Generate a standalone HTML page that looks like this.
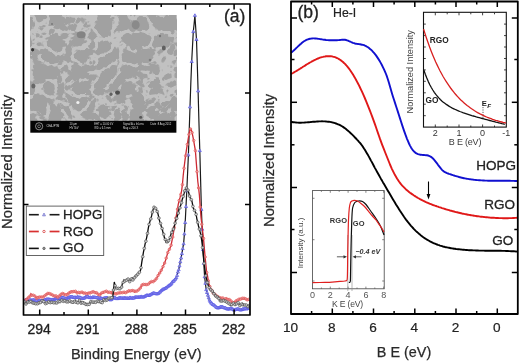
<!DOCTYPE html>
<html><head><meta charset="utf-8"><style>
html,body{margin:0;padding:0;background:#fff;}
body{width:520px;height:363px;overflow:hidden;}
svg{display:block;filter:blur(0.3px);}
</style></head><body>
<svg width="520" height="363" viewBox="0 0 520 363">
<defs><filter id="semtex" filterUnits="userSpaceOnUse" x="30.3" y="15.2" width="146.1" height="105.6" color-interpolation-filters="sRGB">
<feTurbulence type="turbulence" baseFrequency="0.062" numOctaves="3" seed="11" result="n"/>
<feColorMatrix in="n" type="matrix" values="1 0 0 0 0 1 0 0 0 0 1 0 0 0 0 0 0 0 0 1" result="g"/>
<feComponentTransfer in="g"><feFuncR type="table" tableValues="0.760 0.760 0.760 0.760 0.760 0.760 0.760 0.760 0.760 0.760 0.760 0.739 0.713 0.687 0.661 0.635 0.635 0.635 0.635 0.635 0.635 0.635 0.635 0.635 0.635 0.635 0.635 0.635 0.635 0.635 0.635 0.635 0.635 0.635 0.635 0.635 0.635 0.635 0.635 0.635 0.635 0.635 0.635 0.635 0.635 0.635 0.635 0.635 0.635 0.635 0.635 0.635 0.635 0.635 0.635 0.635 0.635 0.635 0.635 0.635 0.635"/><feFuncG type="table" tableValues="0.760 0.760 0.760 0.760 0.760 0.760 0.760 0.760 0.760 0.760 0.760 0.739 0.713 0.687 0.661 0.635 0.635 0.635 0.635 0.635 0.635 0.635 0.635 0.635 0.635 0.635 0.635 0.635 0.635 0.635 0.635 0.635 0.635 0.635 0.635 0.635 0.635 0.635 0.635 0.635 0.635 0.635 0.635 0.635 0.635 0.635 0.635 0.635 0.635 0.635 0.635 0.635 0.635 0.635 0.635 0.635 0.635 0.635 0.635 0.635 0.635"/><feFuncB type="table" tableValues="0.760 0.760 0.760 0.760 0.760 0.760 0.760 0.760 0.760 0.760 0.760 0.739 0.713 0.687 0.661 0.635 0.635 0.635 0.635 0.635 0.635 0.635 0.635 0.635 0.635 0.635 0.635 0.635 0.635 0.635 0.635 0.635 0.635 0.635 0.635 0.635 0.635 0.635 0.635 0.635 0.635 0.635 0.635 0.635 0.635 0.635 0.635 0.635 0.635 0.635 0.635 0.635 0.635 0.635 0.635 0.635 0.635 0.635 0.635 0.635 0.635"/><feFuncA type="linear" slope="0" intercept="1"/></feComponentTransfer>
<feGaussianBlur stdDeviation="0.5"/>
</filter><clipPath id="semclip"><rect x="30.3" y="15.2" width="146.1" height="105.6"/></clipPath>
<filter id="semblur" x="-5%" y="-5%" width="110%" height="110%"><feGaussianBlur stdDeviation="0.6"/></filter><clipPath id="clipa"><rect x="24" y="4.5" width="225.5" height="310"/></clipPath></defs>
<rect width="520" height="363" fill="#fff"/>
<!-- panel a -->
<rect x="30.3" y="15.2" width="146.1" height="105.6" fill="#aaa" filter="url(#semtex)"/><g clip-path="url(#semclip)" filter="url(#semblur)"><ellipse cx="81.2" cy="34.8" rx="4.5" ry="3.5" fill="#848484"/><ellipse cx="135.7" cy="24.9" rx="4" ry="4.5" fill="#8a8a8a"/><ellipse cx="163.8" cy="48" rx="2" ry="2.5" fill="#606060"/><ellipse cx="32.6" cy="49.7" rx="1.6" ry="1.8" fill="#383838"/><ellipse cx="117.5" cy="92.6" rx="2.5" ry="2.2" fill="#505050"/><ellipse cx="111" cy="94.3" rx="1.5" ry="1.8" fill="#606060"/><ellipse cx="33.3" cy="86" rx="2" ry="2.5" fill="#686868"/><ellipse cx="140.7" cy="117.4" rx="1.6" ry="1.4" fill="#585858"/><ellipse cx="160" cy="36" rx="1.2" ry="1.2" fill="#787878"/><ellipse cx="52" cy="24" rx="1" ry="1" fill="#787878"/><ellipse cx="150" cy="60" rx="1.3" ry="1.3" fill="#808080"/><circle cx="77.9" cy="102.5" r="1.6" fill="#f0f0f0"/></g><rect x="30.3" y="120.8" width="146.1" height="11.9" fill="#050505"/>
<circle cx="39.1" cy="126.3" r="3.6" fill="none" stroke="#ddd" stroke-width="0.6"/><circle cx="39.1" cy="126.3" r="1.4" fill="none" stroke="#ccc" stroke-width="0.5"/><g font-family="Liberation Sans, sans-serif" font-size="2.7" fill="#dcdcdc"><text x="46.5" y="127.4">CEA-IPTM</text><text x="69.5" y="125.2">10 μm</text><text x="69.5" y="129.4">HV 5kV</text><text x="94.2" y="125.2">EHT = 10.00 kV</text><text x="94.2" y="129.4">WD = 6.5 mm</text><text x="123" y="125.2">Signal A = InLens</text><text x="123" y="129.4">Mag = 200 X</text><text x="150.5" y="125.2">Date :8 Aug 2012</text></g>

<g clip-path="url(#clipa)">
<polyline points="24.8,300.5 25.6,299.8 26.4,299.7 27.2,299.9 28.0,300.7 28.8,300.4 29.7,300.1 30.5,300.1 31.3,300.2 32.1,300.2 32.9,300.0 33.7,299.9 34.5,300.2 35.3,300.4 36.1,300.2 36.9,300.3 37.8,300.9 38.6,300.6 39.4,300.3 40.2,300.7 41.0,301.0 41.8,300.7 42.6,301.0 43.4,300.6 44.2,300.0 45.0,299.7 45.9,299.6 46.7,299.2 47.5,299.3 48.3,299.2 49.1,299.4 49.9,299.4 50.7,299.6 51.5,299.9 52.3,299.5 53.1,299.7 54.0,299.5 54.8,299.0 55.6,298.4 56.4,298.8 57.2,298.6 58.0,298.2 58.8,298.5 59.6,298.5 60.4,297.9 61.2,297.2 62.1,297.5 62.9,297.5 63.7,297.7 64.5,298.2 65.3,298.6 66.1,298.3 66.9,298.4 67.7,297.7 68.5,297.4 69.3,297.3 70.2,296.7 71.0,296.8 71.8,296.8 72.6,296.9 73.4,297.4 74.2,297.6 75.0,297.1 75.8,297.8 76.6,297.5 77.4,296.8 78.3,297.2 79.1,297.5 79.9,297.3 80.7,297.7 81.5,298.2 82.3,298.4 83.1,298.4 83.9,298.1 84.7,297.8 85.5,296.9 86.4,296.8 87.2,296.2 88.0,296.6 88.8,297.4 89.6,297.6 90.4,297.3 91.2,297.7 92.0,297.7 92.8,297.0 93.6,297.3 94.5,297.3 95.3,297.4 96.1,297.6 96.9,297.6 97.7,297.7 98.5,298.0 99.3,298.3 100.1,297.6 100.9,298.2 101.7,298.4 102.6,298.6 103.4,298.4 104.2,298.3 105.0,297.8 105.8,298.0 106.6,297.8 107.4,297.8 108.2,298.8 109.0,299.6 109.8,299.4 110.7,299.9 111.5,299.4 112.3,298.3 113.1,297.9 113.9,297.8 114.7,297.4 115.5,298.1 116.3,298.6 117.1,298.5 117.9,298.6 118.8,298.0 119.6,297.9 120.4,297.9 121.2,298.2 122.0,297.9 122.8,298.3 123.6,298.1 124.4,298.0 125.2,297.9 126.0,298.3 126.9,298.1 127.7,298.2 128.5,298.5 129.3,297.7 130.1,297.5 130.9,298.0 131.7,298.2 132.5,297.9 133.3,298.0 134.1,298.0 135.0,297.1 135.8,297.1 136.6,297.2 137.4,297.3 138.2,297.0 139.0,297.2 139.8,297.0 140.6,296.9 141.4,296.5 142.2,296.9 143.1,297.2 143.9,296.7 144.7,296.3 145.5,296.0 146.3,295.4 147.1,295.2 147.9,295.4 148.7,295.4 149.5,295.1 150.3,294.8 151.2,294.2 152.0,293.7 152.8,293.3 153.6,293.1 154.4,293.3 155.2,293.5 156.0,293.7 156.8,293.8 157.6,293.7 158.4,293.4 159.3,292.4 160.1,291.8 160.9,290.8 161.7,290.3 162.5,289.4 163.3,289.3 164.1,288.7 164.9,288.5 165.7,287.9 166.5,287.7 167.4,286.5 168.2,286.2 169.0,285.4 169.8,285.1 170.6,284.4 171.4,283.6 172.2,282.1 173.0,281.4 173.8,281.0 174.6,279.8 175.5,279.0 176.3,277.6 177.1,275.4 177.9,272.0 178.7,269.7 179.5,265.9 180.3,261.8 181.1,258.0 181.9,253.6 182.7,248.6 183.6,243.8 184.4,233.9 185.2,222.5 186.0,206.5 186.8,190.7 187.6,172.8 188.4,154.9 189.2,131.1 190.0,106.9 190.8,83.7 191.7,61.5 192.5,46.5 193.3,31.6 194.1,24.0 194.9,15.4 195.7,27.8 196.5,39.5 197.3,65.0 198.1,90.9 198.9,120.7 199.8,150.6 200.6,179.9 201.4,209.4 202.2,229.2 203.0,249.5 203.8,263.4 204.6,276.8 205.4,283.3 206.2,289.7 207.0,292.5 207.9,295.2 208.7,297.8 209.5,300.2 210.3,301.6 211.1,302.9 211.9,303.4 212.7,304.5 213.5,304.7 214.3,305.3 215.1,306.0 216.0,306.8 216.8,307.5 217.6,307.9 218.4,307.8 219.2,307.6 220.0,307.1 220.8,306.7 221.6,306.9 222.4,306.9 223.2,307.3 224.1,307.7 224.9,308.0 225.7,307.9 226.5,308.6 227.3,309.0 228.1,308.8 228.9,308.9 229.7,308.9 230.5,308.4 231.3,308.4 232.2,308.9 233.0,309.3 233.8,310.0 234.6,310.0 235.4,309.5 236.2,309.3 237.0,309.3 237.8,308.8 238.6,309.2 239.4,309.6 240.3,309.9 241.1,309.8 241.9,309.6 242.7,309.0 243.5,309.1 244.3,308.9 245.1,308.5 245.9,308.6 246.7,309.0 247.5,308.2 248.4,308.2 249.2,308.3 250.0,308.4" fill="none" stroke="#1a1a1a" stroke-width="1.2"/>
<g fill="#fff" fill-opacity="0.6" stroke="#5c5ce6" stroke-width="0.85"><path d="M24.8,298.9l1.5,2.6h-3z"/><path d="M25.6,298.2l1.5,2.6h-3z"/><path d="M26.4,298.1l1.5,2.6h-3z"/><path d="M27.2,298.3l1.5,2.6h-3z"/><path d="M28.0,299.1l1.5,2.6h-3z"/><path d="M28.8,298.8l1.5,2.6h-3z"/><path d="M29.7,298.5l1.5,2.6h-3z"/><path d="M30.5,298.5l1.5,2.6h-3z"/><path d="M31.3,298.6l1.5,2.6h-3z"/><path d="M32.1,298.6l1.5,2.6h-3z"/><path d="M32.9,298.4l1.5,2.6h-3z"/><path d="M33.7,298.3l1.5,2.6h-3z"/><path d="M34.5,298.6l1.5,2.6h-3z"/><path d="M35.3,298.8l1.5,2.6h-3z"/><path d="M36.1,298.6l1.5,2.6h-3z"/><path d="M36.9,298.7l1.5,2.6h-3z"/><path d="M37.8,299.3l1.5,2.6h-3z"/><path d="M38.6,299.0l1.5,2.6h-3z"/><path d="M39.4,298.7l1.5,2.6h-3z"/><path d="M40.2,299.1l1.5,2.6h-3z"/><path d="M41.0,299.4l1.5,2.6h-3z"/><path d="M41.8,299.1l1.5,2.6h-3z"/><path d="M42.6,299.4l1.5,2.6h-3z"/><path d="M43.4,299.0l1.5,2.6h-3z"/><path d="M44.2,298.4l1.5,2.6h-3z"/><path d="M45.0,298.1l1.5,2.6h-3z"/><path d="M45.9,298.0l1.5,2.6h-3z"/><path d="M46.7,297.6l1.5,2.6h-3z"/><path d="M47.5,297.7l1.5,2.6h-3z"/><path d="M48.3,297.6l1.5,2.6h-3z"/><path d="M49.1,297.8l1.5,2.6h-3z"/><path d="M49.9,297.8l1.5,2.6h-3z"/><path d="M50.7,298.0l1.5,2.6h-3z"/><path d="M51.5,298.3l1.5,2.6h-3z"/><path d="M52.3,297.9l1.5,2.6h-3z"/><path d="M53.1,298.1l1.5,2.6h-3z"/><path d="M54.0,297.9l1.5,2.6h-3z"/><path d="M54.8,297.4l1.5,2.6h-3z"/><path d="M55.6,296.8l1.5,2.6h-3z"/><path d="M56.4,297.2l1.5,2.6h-3z"/><path d="M57.2,297.0l1.5,2.6h-3z"/><path d="M58.0,296.6l1.5,2.6h-3z"/><path d="M58.8,296.9l1.5,2.6h-3z"/><path d="M59.6,296.9l1.5,2.6h-3z"/><path d="M60.4,296.3l1.5,2.6h-3z"/><path d="M61.2,295.6l1.5,2.6h-3z"/><path d="M62.1,295.9l1.5,2.6h-3z"/><path d="M62.9,295.9l1.5,2.6h-3z"/><path d="M63.7,296.1l1.5,2.6h-3z"/><path d="M64.5,296.6l1.5,2.6h-3z"/><path d="M65.3,297.0l1.5,2.6h-3z"/><path d="M66.1,296.7l1.5,2.6h-3z"/><path d="M66.9,296.8l1.5,2.6h-3z"/><path d="M67.7,296.1l1.5,2.6h-3z"/><path d="M68.5,295.8l1.5,2.6h-3z"/><path d="M69.3,295.7l1.5,2.6h-3z"/><path d="M70.2,295.1l1.5,2.6h-3z"/><path d="M71.0,295.2l1.5,2.6h-3z"/><path d="M71.8,295.2l1.5,2.6h-3z"/><path d="M72.6,295.3l1.5,2.6h-3z"/><path d="M73.4,295.8l1.5,2.6h-3z"/><path d="M74.2,296.0l1.5,2.6h-3z"/><path d="M75.0,295.5l1.5,2.6h-3z"/><path d="M75.8,296.2l1.5,2.6h-3z"/><path d="M76.6,295.9l1.5,2.6h-3z"/><path d="M77.4,295.2l1.5,2.6h-3z"/><path d="M78.3,295.6l1.5,2.6h-3z"/><path d="M79.1,295.9l1.5,2.6h-3z"/><path d="M79.9,295.7l1.5,2.6h-3z"/><path d="M80.7,296.1l1.5,2.6h-3z"/><path d="M81.5,296.6l1.5,2.6h-3z"/><path d="M82.3,296.8l1.5,2.6h-3z"/><path d="M83.1,296.8l1.5,2.6h-3z"/><path d="M83.9,296.5l1.5,2.6h-3z"/><path d="M84.7,296.2l1.5,2.6h-3z"/><path d="M85.5,295.3l1.5,2.6h-3z"/><path d="M86.4,295.2l1.5,2.6h-3z"/><path d="M87.2,294.6l1.5,2.6h-3z"/><path d="M88.0,295.0l1.5,2.6h-3z"/><path d="M88.8,295.8l1.5,2.6h-3z"/><path d="M89.6,296.0l1.5,2.6h-3z"/><path d="M90.4,295.7l1.5,2.6h-3z"/><path d="M91.2,296.1l1.5,2.6h-3z"/><path d="M92.0,296.1l1.5,2.6h-3z"/><path d="M92.8,295.4l1.5,2.6h-3z"/><path d="M93.6,295.7l1.5,2.6h-3z"/><path d="M94.5,295.7l1.5,2.6h-3z"/><path d="M95.3,295.8l1.5,2.6h-3z"/><path d="M96.1,296.0l1.5,2.6h-3z"/><path d="M96.9,296.0l1.5,2.6h-3z"/><path d="M97.7,296.1l1.5,2.6h-3z"/><path d="M98.5,296.4l1.5,2.6h-3z"/><path d="M99.3,296.7l1.5,2.6h-3z"/><path d="M100.1,296.0l1.5,2.6h-3z"/><path d="M100.9,296.6l1.5,2.6h-3z"/><path d="M101.7,296.8l1.5,2.6h-3z"/><path d="M102.6,297.0l1.5,2.6h-3z"/><path d="M103.4,296.8l1.5,2.6h-3z"/><path d="M104.2,296.7l1.5,2.6h-3z"/><path d="M105.0,296.2l1.5,2.6h-3z"/><path d="M105.8,296.4l1.5,2.6h-3z"/><path d="M106.6,296.2l1.5,2.6h-3z"/><path d="M107.4,296.2l1.5,2.6h-3z"/><path d="M108.2,297.2l1.5,2.6h-3z"/><path d="M109.0,298.0l1.5,2.6h-3z"/><path d="M109.8,297.8l1.5,2.6h-3z"/><path d="M110.7,298.3l1.5,2.6h-3z"/><path d="M111.5,297.8l1.5,2.6h-3z"/><path d="M112.3,296.7l1.5,2.6h-3z"/><path d="M113.1,296.3l1.5,2.6h-3z"/><path d="M113.9,296.2l1.5,2.6h-3z"/><path d="M114.7,295.8l1.5,2.6h-3z"/><path d="M115.5,296.5l1.5,2.6h-3z"/><path d="M116.3,297.0l1.5,2.6h-3z"/><path d="M117.1,296.9l1.5,2.6h-3z"/><path d="M117.9,297.0l1.5,2.6h-3z"/><path d="M118.8,296.4l1.5,2.6h-3z"/><path d="M119.6,296.3l1.5,2.6h-3z"/><path d="M120.4,296.3l1.5,2.6h-3z"/><path d="M121.2,296.6l1.5,2.6h-3z"/><path d="M122.0,296.3l1.5,2.6h-3z"/><path d="M122.8,296.7l1.5,2.6h-3z"/><path d="M123.6,296.5l1.5,2.6h-3z"/><path d="M124.4,296.4l1.5,2.6h-3z"/><path d="M125.2,296.3l1.5,2.6h-3z"/><path d="M126.0,296.7l1.5,2.6h-3z"/><path d="M126.9,296.5l1.5,2.6h-3z"/><path d="M127.7,296.6l1.5,2.6h-3z"/><path d="M128.5,296.9l1.5,2.6h-3z"/><path d="M129.3,296.1l1.5,2.6h-3z"/><path d="M130.1,295.9l1.5,2.6h-3z"/><path d="M130.9,296.4l1.5,2.6h-3z"/><path d="M131.7,296.6l1.5,2.6h-3z"/><path d="M132.5,296.3l1.5,2.6h-3z"/><path d="M133.3,296.4l1.5,2.6h-3z"/><path d="M134.1,296.4l1.5,2.6h-3z"/><path d="M135.0,295.5l1.5,2.6h-3z"/><path d="M135.8,295.5l1.5,2.6h-3z"/><path d="M136.6,295.6l1.5,2.6h-3z"/><path d="M137.4,295.7l1.5,2.6h-3z"/><path d="M138.2,295.4l1.5,2.6h-3z"/><path d="M139.0,295.6l1.5,2.6h-3z"/><path d="M139.8,295.4l1.5,2.6h-3z"/><path d="M140.6,295.3l1.5,2.6h-3z"/><path d="M141.4,294.9l1.5,2.6h-3z"/><path d="M142.2,295.3l1.5,2.6h-3z"/><path d="M143.1,295.6l1.5,2.6h-3z"/><path d="M143.9,295.1l1.5,2.6h-3z"/><path d="M144.7,294.7l1.5,2.6h-3z"/><path d="M145.5,294.4l1.5,2.6h-3z"/><path d="M146.3,293.8l1.5,2.6h-3z"/><path d="M147.1,293.6l1.5,2.6h-3z"/><path d="M147.9,293.8l1.5,2.6h-3z"/><path d="M148.7,293.8l1.5,2.6h-3z"/><path d="M149.5,293.5l1.5,2.6h-3z"/><path d="M150.3,293.2l1.5,2.6h-3z"/><path d="M151.2,292.6l1.5,2.6h-3z"/><path d="M152.0,292.1l1.5,2.6h-3z"/><path d="M152.8,291.7l1.5,2.6h-3z"/><path d="M153.6,291.5l1.5,2.6h-3z"/><path d="M154.4,291.7l1.5,2.6h-3z"/><path d="M155.2,291.9l1.5,2.6h-3z"/><path d="M156.0,292.1l1.5,2.6h-3z"/><path d="M156.8,292.2l1.5,2.6h-3z"/><path d="M157.6,292.1l1.5,2.6h-3z"/><path d="M158.4,291.8l1.5,2.6h-3z"/><path d="M159.3,290.8l1.5,2.6h-3z"/><path d="M160.1,290.2l1.5,2.6h-3z"/><path d="M160.9,289.2l1.5,2.6h-3z"/><path d="M161.7,288.7l1.5,2.6h-3z"/><path d="M162.5,287.8l1.5,2.6h-3z"/><path d="M163.3,287.7l1.5,2.6h-3z"/><path d="M164.1,287.1l1.5,2.6h-3z"/><path d="M164.9,286.9l1.5,2.6h-3z"/><path d="M165.7,286.3l1.5,2.6h-3z"/><path d="M166.5,286.1l1.5,2.6h-3z"/><path d="M167.4,284.9l1.5,2.6h-3z"/><path d="M168.2,284.6l1.5,2.6h-3z"/><path d="M169.0,283.8l1.5,2.6h-3z"/><path d="M169.8,283.5l1.5,2.6h-3z"/><path d="M170.6,282.8l1.5,2.6h-3z"/><path d="M171.4,282.0l1.5,2.6h-3z"/><path d="M172.2,280.5l1.5,2.6h-3z"/><path d="M173.0,279.8l1.5,2.6h-3z"/><path d="M173.8,279.4l1.5,2.6h-3z"/><path d="M174.6,278.2l1.5,2.6h-3z"/><path d="M175.5,277.4l1.5,2.6h-3z"/><path d="M176.3,276.0l1.5,2.6h-3z"/><path d="M177.1,273.8l1.5,2.6h-3z"/><path d="M177.9,270.4l1.5,2.6h-3z"/><path d="M178.7,268.1l1.5,2.6h-3z"/><path d="M179.5,264.3l1.5,2.6h-3z"/><path d="M180.3,260.2l1.5,2.6h-3z"/><path d="M181.1,256.4l1.5,2.6h-3z"/><path d="M181.9,252.0l1.5,2.6h-3z"/><path d="M182.7,247.0l1.5,2.6h-3z"/><path d="M183.6,242.2l1.5,2.6h-3z"/><path d="M184.4,232.3l1.5,2.6h-3z"/><path d="M185.2,220.9l1.5,2.6h-3z"/><path d="M186.0,204.9l1.5,2.6h-3z"/><path d="M186.8,189.1l1.5,2.6h-3z"/><path d="M188.4,153.3l1.5,2.6h-3z"/><path d="M190.0,105.3l1.5,2.6h-3z"/><path d="M191.7,59.9l1.5,2.6h-3z"/><path d="M193.3,30.0l1.5,2.6h-3z"/><path d="M194.9,13.8l1.5,2.6h-3z"/><path d="M196.5,37.9l1.5,2.6h-3z"/><path d="M198.1,89.3l1.5,2.6h-3z"/><path d="M199.8,149.0l1.5,2.6h-3z"/><path d="M201.4,207.8l1.5,2.6h-3z"/><path d="M202.2,227.6l1.5,2.6h-3z"/><path d="M203.0,247.9l1.5,2.6h-3z"/><path d="M203.8,261.8l1.5,2.6h-3z"/><path d="M204.6,275.2l1.5,2.6h-3z"/><path d="M205.4,281.7l1.5,2.6h-3z"/><path d="M206.2,288.1l1.5,2.6h-3z"/><path d="M207.0,290.9l1.5,2.6h-3z"/><path d="M207.9,293.6l1.5,2.6h-3z"/><path d="M208.7,296.2l1.5,2.6h-3z"/><path d="M209.5,298.6l1.5,2.6h-3z"/><path d="M210.3,300.0l1.5,2.6h-3z"/><path d="M211.1,301.3l1.5,2.6h-3z"/><path d="M211.9,301.8l1.5,2.6h-3z"/><path d="M212.7,302.9l1.5,2.6h-3z"/><path d="M213.5,303.1l1.5,2.6h-3z"/><path d="M214.3,303.7l1.5,2.6h-3z"/><path d="M215.1,304.4l1.5,2.6h-3z"/><path d="M216.0,305.2l1.5,2.6h-3z"/><path d="M216.8,305.9l1.5,2.6h-3z"/><path d="M217.6,306.3l1.5,2.6h-3z"/><path d="M218.4,306.2l1.5,2.6h-3z"/><path d="M219.2,306.0l1.5,2.6h-3z"/><path d="M220.0,305.5l1.5,2.6h-3z"/><path d="M220.8,305.1l1.5,2.6h-3z"/><path d="M221.6,305.3l1.5,2.6h-3z"/><path d="M222.4,305.3l1.5,2.6h-3z"/><path d="M223.2,305.7l1.5,2.6h-3z"/><path d="M224.1,306.1l1.5,2.6h-3z"/><path d="M224.9,306.4l1.5,2.6h-3z"/><path d="M225.7,306.3l1.5,2.6h-3z"/><path d="M226.5,307.0l1.5,2.6h-3z"/><path d="M227.3,307.4l1.5,2.6h-3z"/><path d="M228.1,307.2l1.5,2.6h-3z"/><path d="M228.9,307.3l1.5,2.6h-3z"/><path d="M229.7,307.3l1.5,2.6h-3z"/><path d="M230.5,306.8l1.5,2.6h-3z"/><path d="M231.3,306.8l1.5,2.6h-3z"/><path d="M232.2,307.3l1.5,2.6h-3z"/><path d="M233.0,307.7l1.5,2.6h-3z"/><path d="M233.8,308.4l1.5,2.6h-3z"/><path d="M234.6,308.4l1.5,2.6h-3z"/><path d="M235.4,307.9l1.5,2.6h-3z"/><path d="M236.2,307.7l1.5,2.6h-3z"/><path d="M237.0,307.7l1.5,2.6h-3z"/><path d="M237.8,307.2l1.5,2.6h-3z"/><path d="M238.6,307.6l1.5,2.6h-3z"/><path d="M239.4,308.0l1.5,2.6h-3z"/><path d="M240.3,308.3l1.5,2.6h-3z"/><path d="M241.1,308.2l1.5,2.6h-3z"/><path d="M241.9,308.0l1.5,2.6h-3z"/><path d="M242.7,307.4l1.5,2.6h-3z"/><path d="M243.5,307.5l1.5,2.6h-3z"/><path d="M244.3,307.3l1.5,2.6h-3z"/><path d="M245.1,306.9l1.5,2.6h-3z"/><path d="M245.9,307.0l1.5,2.6h-3z"/><path d="M246.7,307.4l1.5,2.6h-3z"/><path d="M247.5,306.6l1.5,2.6h-3z"/><path d="M248.4,306.6l1.5,2.6h-3z"/><path d="M249.2,306.7l1.5,2.6h-3z"/><path d="M250.0,306.8l1.5,2.6h-3z"/></g>
<polyline points="25.3,300.2 26.1,299.3 26.9,299.2 27.7,298.0 28.5,297.5 29.3,296.9 30.1,296.0 30.9,293.9 31.7,295.1 32.5,294.7 33.4,295.3 34.2,295.7 35.0,296.2 35.8,297.2 36.6,298.3 37.4,297.0 38.2,297.4 39.0,297.2 39.8,297.0 40.6,296.9 41.5,297.0 42.3,296.8 43.1,297.0 43.9,296.4 44.7,295.8 45.5,295.3 46.3,294.5 47.1,293.5 47.9,293.4 48.7,293.2 49.6,293.6 50.4,294.6 51.2,294.3 52.0,294.9 52.8,295.2 53.6,295.6 54.4,296.1 55.2,296.1 56.0,295.9 56.8,297.1 57.7,297.2 58.5,296.8 59.3,295.9 60.1,295.2 60.9,294.4 61.7,293.6 62.5,293.5 63.3,293.3 64.1,294.3 64.9,294.3 65.8,294.8 66.6,294.2 67.4,294.5 68.2,293.1 69.0,293.0 69.8,292.8 70.6,292.0 71.4,291.2 72.2,291.8 73.0,291.5 73.9,291.5 74.7,291.8 75.5,291.3 76.3,292.4 77.1,292.9 77.9,292.4 78.7,292.4 79.5,293.4 80.3,292.5 81.1,292.4 82.0,292.1 82.8,292.4 83.6,293.1 84.4,292.8 85.2,293.1 86.0,293.5 86.8,293.7 87.6,293.5 88.4,293.1 89.2,292.5 90.1,292.9 90.9,292.7 91.7,292.3 92.5,291.5 93.3,291.7 94.1,292.0 94.9,292.6 95.7,293.4 96.5,292.7 97.3,293.3 98.2,294.4 99.0,294.6 99.8,294.9 100.6,294.3 101.4,293.1 102.2,293.2 103.0,292.4 103.8,292.5 104.6,291.9 105.4,291.3 106.3,291.2 107.1,292.1 107.9,292.2 108.7,292.5 109.5,292.2 110.3,292.3 111.1,292.6 111.9,293.5 112.7,292.9 113.5,293.0 114.4,293.4 115.2,293.6 116.0,293.9 116.8,293.8 117.6,293.2 118.4,293.4 119.2,292.9 120.0,293.0 120.8,292.7 121.6,292.7 122.5,292.6 123.3,292.6 124.1,292.2 124.9,293.0 125.7,292.7 126.5,292.5 127.3,291.7 128.1,291.8 128.9,290.8 129.7,291.5 130.6,291.0 131.4,291.0 132.2,290.5 133.0,290.7 133.8,290.9 134.6,292.0 135.4,291.3 136.2,291.3 137.0,291.0 137.8,290.3 138.7,289.8 139.5,288.7 140.3,288.0 141.1,286.7 141.9,285.2 142.7,284.3 143.5,284.4 144.3,284.6 145.1,284.5 145.9,284.9 146.8,284.6 147.6,284.4 148.4,284.1 149.2,283.6 150.0,282.5 150.8,282.2 151.6,281.5 152.4,282.0 153.2,281.7 154.0,281.0 154.9,280.3 155.7,279.5 156.5,278.5 157.3,276.9 158.1,275.5 158.9,273.8 159.7,273.0 160.5,271.9 161.3,270.2 162.1,268.6 163.0,266.6 163.8,264.8 164.6,263.1 165.4,260.7 166.2,258.1 167.0,255.4 167.8,252.5 168.6,250.6 169.4,249.3 170.2,247.6 171.1,245.2 171.9,241.2 172.7,237.1 173.5,232.6 174.3,227.6 175.1,221.8 175.9,218.0 176.7,213.7 177.5,209.1 178.3,204.1 179.2,200.5 180.0,197.7 180.8,194.5 181.6,191.0 182.4,184.7 183.2,175.8 184.0,168.3 184.8,161.9 185.6,155.7 186.4,150.2 187.3,144.4 188.1,139.5 188.9,134.5 189.7,130.9 190.5,129.0 191.3,130.1 192.1,132.7 192.9,136.6 193.7,140.5 194.5,145.6 195.4,150.7 196.2,161.4 197.0,171.6 197.8,181.5 198.6,187.9 199.4,195.3 200.2,207.0 201.0,217.3 201.8,224.3 202.6,230.8 203.5,238.4 204.3,247.6 205.1,257.0 205.9,264.7 206.7,272.5 207.5,275.7 208.3,280.8 209.1,284.6 209.9,286.6 210.7,288.3 211.6,290.2 212.4,291.5 213.2,293.1 214.0,293.7 214.8,294.2 215.6,294.7 216.4,295.7 217.2,297.2 218.0,296.9 218.8,297.3 219.7,297.6 220.5,298.3 221.3,298.2 222.1,298.3 222.9,298.0 223.7,299.1 224.5,299.4 225.3,299.1 226.1,298.6 226.9,298.7 227.8,299.4 228.6,299.2 229.4,299.6 230.2,300.6 231.0,301.0 231.8,302.3 232.6,302.5 233.4,302.6 234.2,302.7 235.0,301.8 235.9,301.0 236.7,301.5 237.5,300.2 238.3,300.3 239.1,299.2 239.9,298.7 240.7,299.1 241.5,298.8 242.3,298.3 243.1,298.9 244.0,298.3 244.8,298.4 245.6,298.8 246.4,299.6 247.2,299.8 248.0,299.6 248.8,299.4 249.6,300.7" fill="none" stroke="#cc2a34" stroke-width="1.3"/>
<g fill="#fff" fill-opacity="0.35" stroke="#e45858" stroke-width="0.85"><circle cx="25.3" cy="300.2" r="1.25"/><circle cx="26.9" cy="299.2" r="1.25"/><circle cx="28.5" cy="297.5" r="1.25"/><circle cx="30.1" cy="296.0" r="1.25"/><circle cx="31.7" cy="295.1" r="1.25"/><circle cx="33.4" cy="295.3" r="1.25"/><circle cx="35.0" cy="296.2" r="1.25"/><circle cx="36.6" cy="298.3" r="1.25"/><circle cx="38.2" cy="297.4" r="1.25"/><circle cx="39.8" cy="297.0" r="1.25"/><circle cx="41.5" cy="297.0" r="1.25"/><circle cx="43.1" cy="297.0" r="1.25"/><circle cx="44.7" cy="295.8" r="1.25"/><circle cx="46.3" cy="294.5" r="1.25"/><circle cx="47.9" cy="293.4" r="1.25"/><circle cx="49.6" cy="293.6" r="1.25"/><circle cx="51.2" cy="294.3" r="1.25"/><circle cx="52.8" cy="295.2" r="1.25"/><circle cx="54.4" cy="296.1" r="1.25"/><circle cx="56.0" cy="295.9" r="1.25"/><circle cx="57.7" cy="297.2" r="1.25"/><circle cx="59.3" cy="295.9" r="1.25"/><circle cx="60.9" cy="294.4" r="1.25"/><circle cx="62.5" cy="293.5" r="1.25"/><circle cx="64.1" cy="294.3" r="1.25"/><circle cx="65.8" cy="294.8" r="1.25"/><circle cx="67.4" cy="294.5" r="1.25"/><circle cx="69.0" cy="293.0" r="1.25"/><circle cx="70.6" cy="292.0" r="1.25"/><circle cx="72.2" cy="291.8" r="1.25"/><circle cx="73.9" cy="291.5" r="1.25"/><circle cx="75.5" cy="291.3" r="1.25"/><circle cx="77.1" cy="292.9" r="1.25"/><circle cx="78.7" cy="292.4" r="1.25"/><circle cx="80.3" cy="292.5" r="1.25"/><circle cx="82.0" cy="292.1" r="1.25"/><circle cx="83.6" cy="293.1" r="1.25"/><circle cx="85.2" cy="293.1" r="1.25"/><circle cx="86.8" cy="293.7" r="1.25"/><circle cx="88.4" cy="293.1" r="1.25"/><circle cx="90.1" cy="292.9" r="1.25"/><circle cx="91.7" cy="292.3" r="1.25"/><circle cx="93.3" cy="291.7" r="1.25"/><circle cx="94.9" cy="292.6" r="1.25"/><circle cx="96.5" cy="292.7" r="1.25"/><circle cx="98.2" cy="294.4" r="1.25"/><circle cx="99.8" cy="294.9" r="1.25"/><circle cx="101.4" cy="293.1" r="1.25"/><circle cx="103.0" cy="292.4" r="1.25"/><circle cx="104.6" cy="291.9" r="1.25"/><circle cx="106.3" cy="291.2" r="1.25"/><circle cx="107.9" cy="292.2" r="1.25"/><circle cx="109.5" cy="292.2" r="1.25"/><circle cx="111.1" cy="292.6" r="1.25"/><circle cx="112.7" cy="292.9" r="1.25"/><circle cx="114.4" cy="293.4" r="1.25"/><circle cx="116.0" cy="293.9" r="1.25"/><circle cx="117.6" cy="293.2" r="1.25"/><circle cx="119.2" cy="292.9" r="1.25"/><circle cx="120.8" cy="292.7" r="1.25"/><circle cx="122.5" cy="292.6" r="1.25"/><circle cx="124.1" cy="292.2" r="1.25"/><circle cx="125.7" cy="292.7" r="1.25"/><circle cx="127.3" cy="291.7" r="1.25"/><circle cx="128.9" cy="290.8" r="1.25"/><circle cx="130.6" cy="291.0" r="1.25"/><circle cx="132.2" cy="290.5" r="1.25"/><circle cx="133.8" cy="290.9" r="1.25"/><circle cx="135.4" cy="291.3" r="1.25"/><circle cx="137.0" cy="291.0" r="1.25"/><circle cx="138.7" cy="289.8" r="1.25"/><circle cx="140.3" cy="288.0" r="1.25"/><circle cx="141.9" cy="285.2" r="1.25"/><circle cx="143.5" cy="284.4" r="1.25"/><circle cx="145.1" cy="284.5" r="1.25"/><circle cx="146.8" cy="284.6" r="1.25"/><circle cx="148.4" cy="284.1" r="1.25"/><circle cx="150.0" cy="282.5" r="1.25"/><circle cx="151.6" cy="281.5" r="1.25"/><circle cx="153.2" cy="281.7" r="1.25"/><circle cx="154.9" cy="280.3" r="1.25"/><circle cx="156.5" cy="278.5" r="1.25"/><circle cx="158.1" cy="275.5" r="1.25"/><circle cx="159.7" cy="273.0" r="1.25"/><circle cx="161.3" cy="270.2" r="1.25"/><circle cx="163.0" cy="266.6" r="1.25"/><circle cx="164.6" cy="263.1" r="1.25"/><circle cx="166.2" cy="258.1" r="1.25"/><circle cx="167.8" cy="252.5" r="1.25"/><circle cx="169.4" cy="249.3" r="1.25"/><circle cx="171.1" cy="245.2" r="1.25"/><circle cx="172.7" cy="237.1" r="1.25"/><circle cx="174.3" cy="227.6" r="1.25"/><circle cx="175.9" cy="218.0" r="1.25"/><circle cx="177.5" cy="209.1" r="1.25"/><circle cx="179.2" cy="200.5" r="1.25"/><circle cx="180.8" cy="194.5" r="1.25"/><circle cx="182.4" cy="184.7" r="1.25"/><circle cx="184.0" cy="168.3" r="1.25"/><circle cx="185.6" cy="155.7" r="1.25"/><circle cx="187.3" cy="144.4" r="1.25"/><circle cx="188.9" cy="134.5" r="1.25"/><circle cx="190.5" cy="129.0" r="1.25"/><circle cx="192.1" cy="132.7" r="1.25"/><circle cx="193.7" cy="140.5" r="1.25"/><circle cx="195.4" cy="150.7" r="1.25"/><circle cx="197.0" cy="171.6" r="1.25"/><circle cx="198.6" cy="187.9" r="1.25"/><circle cx="200.2" cy="207.0" r="1.25"/><circle cx="201.8" cy="224.3" r="1.25"/><circle cx="203.5" cy="238.4" r="1.25"/><circle cx="205.1" cy="257.0" r="1.25"/><circle cx="206.7" cy="272.5" r="1.25"/><circle cx="208.3" cy="280.8" r="1.25"/><circle cx="209.9" cy="286.6" r="1.25"/><circle cx="211.6" cy="290.2" r="1.25"/><circle cx="213.2" cy="293.1" r="1.25"/><circle cx="214.8" cy="294.2" r="1.25"/><circle cx="216.4" cy="295.7" r="1.25"/><circle cx="218.0" cy="296.9" r="1.25"/><circle cx="219.7" cy="297.6" r="1.25"/><circle cx="221.3" cy="298.2" r="1.25"/><circle cx="222.9" cy="298.0" r="1.25"/><circle cx="224.5" cy="299.4" r="1.25"/><circle cx="226.1" cy="298.6" r="1.25"/><circle cx="227.8" cy="299.4" r="1.25"/><circle cx="229.4" cy="299.6" r="1.25"/><circle cx="231.0" cy="301.0" r="1.25"/><circle cx="232.6" cy="302.5" r="1.25"/><circle cx="234.2" cy="302.7" r="1.25"/><circle cx="235.9" cy="301.0" r="1.25"/><circle cx="237.5" cy="300.2" r="1.25"/><circle cx="239.1" cy="299.2" r="1.25"/><circle cx="240.7" cy="299.1" r="1.25"/><circle cx="242.3" cy="298.3" r="1.25"/><circle cx="244.0" cy="298.3" r="1.25"/><circle cx="245.6" cy="298.8" r="1.25"/><circle cx="247.2" cy="299.8" r="1.25"/><circle cx="248.8" cy="299.4" r="1.25"/></g>
<polyline points="24.4,301.7 25.2,302.5 26.0,303.9 26.8,303.3 27.6,302.0 28.4,301.0 29.3,302.1 30.1,301.8 30.9,301.5 31.7,301.8 32.5,302.8 33.3,303.5 34.1,303.1 34.9,303.8 35.7,303.7 36.5,303.6 37.4,303.7 38.2,303.0 39.0,302.8 39.8,302.6 40.6,302.4 41.4,302.0 42.2,300.8 43.0,300.4 43.8,301.6 44.6,302.1 45.5,303.6 46.3,303.0 47.1,302.9 47.9,301.9 48.7,301.8 49.5,301.8 50.3,302.6 51.1,302.1 51.9,302.3 52.7,302.2 53.6,302.7 54.4,302.6 55.2,302.7 56.0,302.9 56.8,302.9 57.6,302.4 58.4,301.6 59.2,301.8 60.0,301.6 60.8,300.9 61.7,300.3 62.5,300.5 63.3,301.3 64.1,300.8 64.9,300.7 65.7,300.9 66.5,301.8 67.3,302.2 68.1,301.8 68.9,301.8 69.8,300.9 70.6,301.6 71.4,302.0 72.2,302.4 73.0,302.3 73.8,301.3 74.6,301.4 75.4,300.5 76.2,302.3 77.0,302.8 77.9,302.8 78.7,300.4 79.5,300.6 80.3,301.2 81.1,303.1 81.9,301.9 82.7,302.6 83.5,302.2 84.3,303.4 85.1,303.3 86.0,304.4 86.8,303.7 87.6,304.5 88.4,303.6 89.2,304.3 90.0,302.7 90.8,301.7 91.6,302.0 92.4,302.1 93.2,302.8 94.1,302.1 94.9,302.2 95.7,302.3 96.5,301.5 97.3,301.2 98.1,301.3 98.9,301.5 99.7,302.3 100.5,302.0 101.3,303.0 102.2,302.6 103.0,301.1 103.8,299.7 104.6,299.1 105.4,300.4 106.2,300.5 107.0,300.0 107.8,299.1 108.6,298.3 109.4,298.4 110.3,297.9 111.1,298.2 111.9,297.7 112.7,297.9 113.5,290.0 114.3,282.0 115.1,285.7 115.9,288.3 116.7,288.4 117.5,288.7 118.4,288.4 119.2,288.3 120.0,288.7 120.8,287.8 121.6,287.1 122.4,283.4 123.2,282.3 124.0,280.1 124.8,281.1 125.6,280.7 126.5,280.2 127.3,279.2 128.1,279.1 128.9,280.9 129.7,281.6 130.5,280.5 131.3,279.0 132.1,278.0 132.9,279.9 133.7,278.7 134.6,277.7 135.4,275.7 136.2,275.8 137.0,274.8 137.8,274.2 138.6,272.5 139.4,272.2 140.2,271.6 141.0,267.7 141.8,262.1 142.7,256.7 143.5,251.9 144.3,248.3 145.1,243.8 145.9,241.2 146.7,237.3 147.5,233.3 148.3,228.2 149.1,224.4 149.9,221.5 150.8,218.9 151.6,215.9 152.4,212.1 153.2,209.1 154.0,207.3 154.8,207.3 155.6,208.4 156.4,209.7 157.2,211.5 158.0,213.9 158.9,218.1 159.7,221.4 160.5,223.4 161.3,226.5 162.1,228.5 162.9,232.0 163.7,234.3 164.5,238.2 165.3,239.5 166.1,242.3 167.0,241.8 167.8,242.3 168.6,240.6 169.4,239.4 170.2,237.4 171.0,234.0 171.8,232.3 172.6,230.2 173.4,229.1 174.2,226.4 175.1,223.2 175.9,220.2 176.7,218.4 177.5,215.5 178.3,213.1 179.1,208.9 179.9,207.9 180.7,205.3 181.5,202.7 182.3,199.2 183.2,196.4 184.0,193.9 184.8,190.8 185.6,189.3 186.4,188.0 187.2,189.8 188.0,190.1 188.8,193.0 189.6,196.1 190.4,198.1 191.3,199.7 192.1,201.9 192.9,206.4 193.7,209.2 194.5,210.4 195.3,211.6 196.1,214.4 196.9,219.1 197.7,222.3 198.5,226.0 199.4,229.1 200.2,232.4 201.0,235.8 201.8,241.2 202.6,247.6 203.4,255.8 204.2,263.4 205.0,270.1 205.8,275.8 206.6,279.1 207.5,282.5 208.3,285.7 209.1,287.7 209.9,289.4 210.7,289.7 211.5,290.8 212.3,291.1 213.1,292.4 213.9,293.7 214.7,293.9 215.6,295.9 216.4,296.0 217.2,297.1 218.0,296.6 218.8,298.5 219.6,300.3 220.4,300.9 221.2,300.5 222.0,301.0 222.8,301.0 223.7,300.5 224.5,300.3 225.3,301.3 226.1,301.5 226.9,302.1 227.7,302.4 228.5,303.3 229.3,304.0 230.1,304.2 230.9,305.5 231.8,304.6 232.6,304.5 233.4,303.3 234.2,303.9 235.0,304.5 235.8,304.8 236.6,303.7 237.4,302.9 238.2,302.7 239.0,304.0 239.9,305.6 240.7,304.6 241.5,304.2 242.3,303.3 243.1,304.8 243.9,305.1 244.7,305.0 245.5,304.5 246.3,305.1 247.1,306.1 248.0,306.6 248.8,306.0 249.6,305.3" fill="none" stroke="#0a0a0a" stroke-width="1.3"/>
<g fill="#fff" fill-opacity="0.75" stroke="#555" stroke-width="0.8"><circle cx="24.4" cy="301.7" r="1.35"/><circle cx="26.0" cy="303.9" r="1.35"/><circle cx="27.6" cy="302.0" r="1.35"/><circle cx="29.3" cy="302.1" r="1.35"/><circle cx="30.9" cy="301.5" r="1.35"/><circle cx="32.5" cy="302.8" r="1.35"/><circle cx="34.1" cy="303.1" r="1.35"/><circle cx="35.7" cy="303.7" r="1.35"/><circle cx="37.4" cy="303.7" r="1.35"/><circle cx="39.0" cy="302.8" r="1.35"/><circle cx="40.6" cy="302.4" r="1.35"/><circle cx="42.2" cy="300.8" r="1.35"/><circle cx="43.8" cy="301.6" r="1.35"/><circle cx="45.5" cy="303.6" r="1.35"/><circle cx="47.1" cy="302.9" r="1.35"/><circle cx="48.7" cy="301.8" r="1.35"/><circle cx="50.3" cy="302.6" r="1.35"/><circle cx="51.9" cy="302.3" r="1.35"/><circle cx="53.6" cy="302.7" r="1.35"/><circle cx="55.2" cy="302.7" r="1.35"/><circle cx="56.8" cy="302.9" r="1.35"/><circle cx="58.4" cy="301.6" r="1.35"/><circle cx="60.0" cy="301.6" r="1.35"/><circle cx="61.7" cy="300.3" r="1.35"/><circle cx="63.3" cy="301.3" r="1.35"/><circle cx="64.9" cy="300.7" r="1.35"/><circle cx="66.5" cy="301.8" r="1.35"/><circle cx="68.1" cy="301.8" r="1.35"/><circle cx="69.8" cy="300.9" r="1.35"/><circle cx="71.4" cy="302.0" r="1.35"/><circle cx="73.0" cy="302.3" r="1.35"/><circle cx="74.6" cy="301.4" r="1.35"/><circle cx="76.2" cy="302.3" r="1.35"/><circle cx="77.9" cy="302.8" r="1.35"/><circle cx="79.5" cy="300.6" r="1.35"/><circle cx="81.1" cy="303.1" r="1.35"/><circle cx="82.7" cy="302.6" r="1.35"/><circle cx="84.3" cy="303.4" r="1.35"/><circle cx="86.0" cy="304.4" r="1.35"/><circle cx="87.6" cy="304.5" r="1.35"/><circle cx="89.2" cy="304.3" r="1.35"/><circle cx="90.8" cy="301.7" r="1.35"/><circle cx="92.4" cy="302.1" r="1.35"/><circle cx="94.1" cy="302.1" r="1.35"/><circle cx="95.7" cy="302.3" r="1.35"/><circle cx="97.3" cy="301.2" r="1.35"/><circle cx="98.9" cy="301.5" r="1.35"/><circle cx="100.5" cy="302.0" r="1.35"/><circle cx="102.2" cy="302.6" r="1.35"/><circle cx="103.8" cy="299.7" r="1.35"/><circle cx="105.4" cy="300.4" r="1.35"/><circle cx="107.0" cy="300.0" r="1.35"/><circle cx="108.6" cy="298.3" r="1.35"/><circle cx="110.3" cy="297.9" r="1.35"/><circle cx="111.9" cy="297.7" r="1.35"/><circle cx="113.5" cy="290.0" r="1.35"/><circle cx="115.1" cy="285.7" r="1.35"/><circle cx="116.7" cy="288.4" r="1.35"/><circle cx="118.4" cy="288.4" r="1.35"/><circle cx="120.0" cy="288.7" r="1.35"/><circle cx="121.6" cy="287.1" r="1.35"/><circle cx="123.2" cy="282.3" r="1.35"/><circle cx="124.8" cy="281.1" r="1.35"/><circle cx="126.5" cy="280.2" r="1.35"/><circle cx="128.1" cy="279.1" r="1.35"/><circle cx="129.7" cy="281.6" r="1.35"/><circle cx="131.3" cy="279.0" r="1.35"/><circle cx="132.9" cy="279.9" r="1.35"/><circle cx="134.6" cy="277.7" r="1.35"/><circle cx="136.2" cy="275.8" r="1.35"/><circle cx="137.8" cy="274.2" r="1.35"/><circle cx="139.4" cy="272.2" r="1.35"/><circle cx="141.0" cy="267.7" r="1.35"/><circle cx="142.7" cy="256.7" r="1.35"/><circle cx="144.3" cy="248.3" r="1.35"/><circle cx="145.9" cy="241.2" r="1.35"/><circle cx="147.5" cy="233.3" r="1.35"/><circle cx="149.1" cy="224.4" r="1.35"/><circle cx="150.8" cy="218.9" r="1.35"/><circle cx="152.4" cy="212.1" r="1.35"/><circle cx="154.0" cy="207.3" r="1.35"/><circle cx="155.6" cy="208.4" r="1.35"/><circle cx="157.2" cy="211.5" r="1.35"/><circle cx="158.9" cy="218.1" r="1.35"/><circle cx="160.5" cy="223.4" r="1.35"/><circle cx="162.1" cy="228.5" r="1.35"/><circle cx="163.7" cy="234.3" r="1.35"/><circle cx="165.3" cy="239.5" r="1.35"/><circle cx="167.0" cy="241.8" r="1.35"/><circle cx="168.6" cy="240.6" r="1.35"/><circle cx="170.2" cy="237.4" r="1.35"/><circle cx="171.8" cy="232.3" r="1.35"/><circle cx="173.4" cy="229.1" r="1.35"/><circle cx="175.1" cy="223.2" r="1.35"/><circle cx="176.7" cy="218.4" r="1.35"/><circle cx="178.3" cy="213.1" r="1.35"/><circle cx="179.9" cy="207.9" r="1.35"/><circle cx="181.5" cy="202.7" r="1.35"/><circle cx="183.2" cy="196.4" r="1.35"/><circle cx="184.8" cy="190.8" r="1.35"/><circle cx="186.4" cy="188.0" r="1.35"/><circle cx="188.0" cy="190.1" r="1.35"/><circle cx="189.6" cy="196.1" r="1.35"/><circle cx="191.3" cy="199.7" r="1.35"/><circle cx="192.9" cy="206.4" r="1.35"/><circle cx="194.5" cy="210.4" r="1.35"/><circle cx="196.1" cy="214.4" r="1.35"/><circle cx="197.7" cy="222.3" r="1.35"/><circle cx="199.4" cy="229.1" r="1.35"/><circle cx="201.0" cy="235.8" r="1.35"/><circle cx="202.6" cy="247.6" r="1.35"/><circle cx="204.2" cy="263.4" r="1.35"/><circle cx="205.8" cy="275.8" r="1.35"/><circle cx="207.5" cy="282.5" r="1.35"/><circle cx="209.1" cy="287.7" r="1.35"/><circle cx="210.7" cy="289.7" r="1.35"/><circle cx="212.3" cy="291.1" r="1.35"/><circle cx="213.9" cy="293.7" r="1.35"/><circle cx="215.6" cy="295.9" r="1.35"/><circle cx="217.2" cy="297.1" r="1.35"/><circle cx="218.8" cy="298.5" r="1.35"/><circle cx="220.4" cy="300.9" r="1.35"/><circle cx="222.0" cy="301.0" r="1.35"/><circle cx="223.7" cy="300.5" r="1.35"/><circle cx="225.3" cy="301.3" r="1.35"/><circle cx="226.9" cy="302.1" r="1.35"/><circle cx="228.5" cy="303.3" r="1.35"/><circle cx="230.1" cy="304.2" r="1.35"/><circle cx="231.8" cy="304.6" r="1.35"/><circle cx="233.4" cy="303.3" r="1.35"/><circle cx="235.0" cy="304.5" r="1.35"/><circle cx="236.6" cy="303.7" r="1.35"/><circle cx="238.2" cy="302.7" r="1.35"/><circle cx="239.9" cy="305.6" r="1.35"/><circle cx="241.5" cy="304.2" r="1.35"/><circle cx="243.1" cy="304.8" r="1.35"/><circle cx="244.7" cy="305.0" r="1.35"/><circle cx="246.3" cy="305.1" r="1.35"/><circle cx="248.0" cy="306.6" r="1.35"/><circle cx="249.6" cy="305.3" r="1.35"/></g>

</g>
<rect x="26.3" y="206.1" width="77.4" height="49.4" fill="#fff" stroke="#555" stroke-width="0.9"/>
<g stroke-width="1.6">
<line x1="28.9" y1="214.7" x2="38.8" y2="214.7" stroke="#1a1a1a"/><line x1="49.6" y1="214.7" x2="59.5" y2="214.7" stroke="#1a1a1a"/>
<path d="M44,213 L45.5,215.9 L42.5,215.9Z" fill="#b8b8e8" stroke="#7878d0" stroke-width="0.7"/>
<line x1="28.9" y1="231.5" x2="38.8" y2="231.5" stroke="#d83030" stroke-width="1.7"/><line x1="49.6" y1="231.5" x2="59.5" y2="231.5" stroke="#d83030" stroke-width="1.7"/>
<circle cx="44" cy="231.5" r="1.2" fill="none" stroke="#d84040" stroke-width="0.8"/>
<line x1="28.9" y1="248.4" x2="38.8" y2="248.4" stroke="#111"/><line x1="49.6" y1="248.4" x2="59.5" y2="248.4" stroke="#111"/>
<circle cx="44" cy="248.4" r="1.2" fill="#999" stroke="#555" stroke-width="0.8"/>
</g>
<g font-family="Liberation Sans, Arial, sans-serif" font-size="13.3" fill="#222" stroke="#222" stroke-width="0.3">
<text x="63.1" y="218.9">HOPG</text><text x="63.1" y="235.6">RGO</text><text x="63.1" y="251.8">GO</text>
</g>
<g stroke="#000" stroke-width="1.5" fill="none"><line x1="39.7" y1="315" x2="39.7" y2="309.5"/><line x1="39.7" y1="4" x2="39.7" y2="9.5"/><line x1="88.3" y1="315" x2="88.3" y2="309.5"/><line x1="88.3" y1="4" x2="88.3" y2="9.5"/><line x1="136.9" y1="315" x2="136.9" y2="309.5"/><line x1="136.9" y1="4" x2="136.9" y2="9.5"/><line x1="185.5" y1="315" x2="185.5" y2="309.5"/><line x1="185.5" y1="4" x2="185.5" y2="9.5"/><line x1="234.1" y1="315" x2="234.1" y2="309.5"/><line x1="234.1" y1="4" x2="234.1" y2="9.5"/><line x1="64.0" y1="315" x2="64.0" y2="312"/><line x1="64.0" y1="4" x2="64.0" y2="7"/><line x1="112.6" y1="315" x2="112.6" y2="312"/><line x1="112.6" y1="4" x2="112.6" y2="7"/><line x1="161.2" y1="315" x2="161.2" y2="312"/><line x1="161.2" y1="4" x2="161.2" y2="7"/><line x1="209.8" y1="315" x2="209.8" y2="312"/><line x1="209.8" y1="4" x2="209.8" y2="7"/><line x1="23.5" y1="93" x2="28.5" y2="93"/><line x1="250" y1="93" x2="245" y2="93"/><line x1="23.5" y1="204.5" x2="28.5" y2="204.5"/><line x1="250" y1="204.5" x2="245" y2="204.5"/></g><rect x="23.5" y="4" width="226.5" height="311" fill="none" stroke="#000" stroke-width="1.7" stroke-linejoin="round"/>
<g font-family="Liberation Sans, Arial, sans-serif" font-size="14" fill="#222" stroke="#222" stroke-width="0.3" text-anchor="middle"><text x="39.2" y="334">294</text><text x="87.8" y="334">291</text><text x="136.4" y="334">288</text><text x="185.0" y="334">285</text><text x="233.6" y="334">282</text></g>
<text x="224" y="22.3" font-family="Liberation Sans, Arial, sans-serif" font-size="17.5" fill="#222" stroke="#222" stroke-width="0.3">(a)</text>
<text x="0" y="0" font-family="Liberation Sans, Arial, sans-serif" font-size="14.8" fill="#2a2a2a" stroke="#2a2a2a" stroke-width="0.25" text-anchor="middle" transform="translate(12.1 162) rotate(-90)">Normalized Intensity</text>
<text x="136.2" y="359.1" font-family="Liberation Sans, Arial, sans-serif" font-size="14.6" fill="#2a2a2a" stroke="#2a2a2a" stroke-width="0.25" text-anchor="middle">Binding Energy (eV)</text>
<!-- panel b -->
<path d="M291.0,52.8 L292.0,52.0 L293.0,51.1 L294.0,50.2 L295.0,49.3 L296.0,48.3 L297.0,47.4 L298.0,46.4 L299.0,45.5 L300.0,44.5 L301.0,43.7 L302.0,42.8 L303.0,42.0 L304.0,41.3 L305.0,40.7 L306.0,40.1 L307.0,39.7 L308.0,39.3 L309.0,39.0 L310.0,38.8 L311.0,38.6 L312.0,38.5 L313.0,38.4 L314.0,38.4 L315.0,38.5 L316.0,38.5 L317.0,38.6 L318.0,38.8 L319.0,38.9 L320.0,39.1 L321.0,39.2 L322.0,39.4 L323.0,39.6 L324.0,39.7 L325.0,39.8 L326.0,40.0 L327.0,40.1 L328.0,40.1 L329.0,40.2 L330.0,40.3 L331.0,40.3 L332.0,40.3 L333.0,40.3 L334.0,40.3 L335.0,40.3 L336.0,40.3 L337.0,40.2 L338.0,40.1 L339.0,40.1 L340.0,40.0 L341.0,39.9 L342.0,39.8 L343.0,39.7 L344.0,39.7 L345.0,39.8 L346.0,40.0 L347.0,40.3 L348.0,40.6 L349.0,41.1 L350.0,41.5 L351.0,42.0 L352.0,42.5 L353.0,42.9 L354.0,43.2 L355.0,43.5 L356.0,43.7 L357.0,43.9 L358.0,44.0 L359.0,44.1 L360.0,44.3 L361.0,44.5 L362.0,44.7 L363.0,44.9 L364.0,45.2 L365.0,45.7 L366.0,46.1 L367.0,46.7 L368.0,47.3 L369.0,48.1 L370.0,48.9 L371.0,49.7 L372.0,50.7 L373.0,51.8 L374.0,52.9 L375.0,54.1 L376.0,55.4 L377.0,56.9 L378.0,58.4 L379.0,59.9 L380.0,61.6 L381.0,63.4 L382.0,65.3 L383.0,67.3 L384.0,69.4 L385.0,71.6 L386.0,74.0 L387.0,76.7 L388.0,79.7 L389.0,83.0 L390.0,86.5 L391.0,90.0 L392.0,93.4 L393.0,96.7 L394.0,99.8 L395.0,102.9 L396.0,106.0 L397.0,109.0 L398.0,112.1 L399.0,115.2 L400.0,118.4 L401.0,121.5 L402.0,124.6 L403.0,127.6 L404.0,130.6 L405.0,133.4 L406.0,136.2 L407.0,138.8 L408.0,141.2 L409.0,143.5 L410.0,145.6 L411.0,147.4 L412.0,149.0 L413.0,150.3 L414.0,151.5 L415.0,152.4 L416.0,153.1 L417.0,153.7 L418.0,154.1 L419.0,154.4 L420.0,154.7 L421.0,154.8 L422.0,154.9 L423.0,155.0 L424.0,155.0 L425.0,155.1 L426.0,155.2 L427.0,155.3 L428.0,155.5 L429.0,155.9 L430.0,156.3 L431.0,156.9 L432.0,157.6 L433.0,158.5 L434.0,159.6 L435.0,160.8 L436.0,162.1 L437.0,163.4 L438.0,164.8 L439.0,166.1 L440.0,167.4 L441.0,168.7 L442.0,169.8 L443.0,170.8 L444.0,171.6 L445.0,172.2 L446.0,172.7 L447.0,173.2 L448.0,173.5 L449.0,173.9 L450.0,174.2 L451.0,174.5 L452.0,174.8 L453.0,175.2 L454.0,175.5 L455.0,175.8 L456.0,176.1 L457.0,176.4 L458.0,176.7 L459.0,177.0 L460.0,177.3 L461.0,177.5 L462.0,177.8 L463.0,178.0 L464.0,178.2 L465.0,178.4 L466.0,178.6 L467.0,178.8 L468.0,178.9 L469.0,179.1 L470.0,179.2 L471.0,179.4 L472.0,179.5 L473.0,179.6 L474.0,179.8 L475.0,179.9 L476.0,180.0 L477.0,180.1 L478.0,180.1 L479.0,180.2 L480.0,180.3 L481.0,180.4 L482.0,180.4 L483.0,180.5 L484.0,180.5 L485.0,180.6 L486.0,180.6 L487.0,180.6 L488.0,180.7 L489.0,180.7 L490.0,180.7 L491.0,180.7 L492.0,180.8 L493.0,180.8 L494.0,180.8 L495.0,180.8 L496.0,180.8 L497.0,180.8 L498.0,180.8 L499.0,180.8 L500.0,180.8 L501.0,180.8 L502.0,180.8 L503.0,180.8 L504.0,180.8 L505.0,180.8 L506.0,180.8 L507.0,180.8 L508.0,180.8 L509.0,180.8 L510.0,180.8 L511.0,180.9 L512.0,180.9 L513.0,180.9 L514.0,180.9 L515.0,181.0 L516.0,181.0 L517.0,181.0" fill="none" stroke="#1010d0" stroke-width="1.9" stroke-linejoin="round"/>
<path d="M291.0,74.1 L292.0,73.5 L293.0,73.0 L294.0,72.4 L295.0,71.8 L296.0,71.2 L297.0,70.6 L298.0,70.0 L299.0,69.4 L300.0,68.8 L301.0,68.1 L302.0,67.5 L303.0,66.8 L304.0,66.2 L305.0,65.6 L306.0,64.9 L307.0,64.3 L308.0,63.7 L309.0,63.1 L310.0,62.5 L311.0,62.0 L312.0,61.4 L313.0,60.9 L314.0,60.3 L315.0,59.8 L316.0,59.4 L317.0,58.9 L318.0,58.5 L319.0,58.1 L320.0,57.7 L321.0,57.4 L322.0,57.1 L323.0,56.9 L324.0,56.6 L325.0,56.5 L326.0,56.3 L327.0,56.2 L328.0,56.2 L329.0,56.2 L330.0,56.2 L331.0,56.3 L332.0,56.4 L333.0,56.7 L334.0,56.9 L335.0,57.2 L336.0,57.6 L337.0,58.0 L338.0,58.5 L339.0,59.1 L340.0,59.7 L341.0,60.4 L342.0,61.2 L343.0,62.0 L344.0,63.0 L345.0,63.9 L346.0,65.0 L347.0,66.2 L348.0,67.4 L349.0,68.7 L350.0,70.0 L351.0,71.5 L352.0,73.0 L353.0,74.6 L354.0,76.2 L355.0,77.9 L356.0,79.7 L357.0,81.6 L358.0,83.5 L359.0,85.4 L360.0,87.5 L361.0,89.6 L362.0,91.7 L363.0,93.9 L364.0,96.2 L365.0,98.5 L366.0,100.9 L367.0,103.3 L368.0,105.8 L369.0,108.3 L370.0,110.9 L371.0,113.5 L372.0,116.2 L373.0,118.9 L374.0,121.6 L375.0,124.4 L376.0,127.3 L377.0,130.2 L378.0,133.1 L379.0,136.0 L380.0,138.9 L381.0,141.6 L382.0,144.3 L383.0,146.9 L384.0,149.4 L385.0,152.0 L386.0,154.5 L387.0,157.0 L388.0,159.5 L389.0,162.0 L390.0,164.5 L391.0,166.8 L392.0,169.1 L393.0,171.2 L394.0,173.2 L395.0,175.1 L396.0,176.8 L397.0,178.5 L398.0,180.0 L399.0,181.5 L400.0,182.8 L401.0,184.1 L402.0,185.3 L403.0,186.4 L404.0,187.4 L405.0,188.4 L406.0,189.4 L407.0,190.2 L408.0,191.1 L409.0,191.9 L410.0,192.7 L411.0,193.4 L412.0,194.1 L413.0,194.8 L414.0,195.5 L415.0,196.1 L416.0,196.8 L417.0,197.4 L418.0,198.0 L419.0,198.5 L420.0,199.1 L421.0,199.6 L422.0,200.2 L423.0,200.7 L424.0,201.1 L425.0,201.6 L426.0,202.1 L427.0,202.5 L428.0,203.0 L429.0,203.4 L430.0,203.8 L431.0,204.2 L432.0,204.6 L433.0,205.0 L434.0,205.3 L435.0,205.7 L436.0,206.0 L437.0,206.4 L438.0,206.7 L439.0,207.1 L440.0,207.4 L441.0,207.7 L442.0,208.1 L443.0,208.4 L444.0,208.7 L445.0,209.0 L446.0,209.3 L447.0,209.6 L448.0,209.9 L449.0,210.2 L450.0,210.5 L451.0,210.7 L452.0,211.0 L453.0,211.3 L454.0,211.5 L455.0,211.8 L456.0,212.1 L457.0,212.3 L458.0,212.5 L459.0,212.8 L460.0,213.0 L461.0,213.2 L462.0,213.5 L463.0,213.7 L464.0,213.9 L465.0,214.1 L466.0,214.3 L467.0,214.5 L468.0,214.7 L469.0,214.9 L470.0,215.0 L471.0,215.2 L472.0,215.4 L473.0,215.5 L474.0,215.7 L475.0,215.9 L476.0,216.0 L477.0,216.2 L478.0,216.3 L479.0,216.4 L480.0,216.6 L481.0,216.7 L482.0,216.8 L483.0,216.9 L484.0,217.0 L485.0,217.1 L486.0,217.2 L487.0,217.3 L488.0,217.4 L489.0,217.5 L490.0,217.6 L491.0,217.7 L492.0,217.7 L493.0,217.8 L494.0,217.8 L495.0,217.9 L496.0,218.0 L497.0,218.0 L498.0,218.0 L499.0,218.1 L500.0,218.1 L501.0,218.1 L502.0,218.1 L503.0,218.2 L504.0,218.2 L505.0,218.2 L506.0,218.2 L507.0,218.2 L508.0,218.2 L509.0,218.1 L510.0,218.1 L511.0,218.1 L512.0,218.1 L513.0,218.0 L514.0,218.0 L515.0,217.9 L516.0,217.9 L517.0,217.8" fill="none" stroke="#e01818" stroke-width="1.9" stroke-linejoin="round"/>
<path d="M291.0,121.9 L292.0,122.0 L293.0,122.2 L294.0,122.3 L295.0,122.4 L296.0,122.5 L297.0,122.6 L298.0,122.6 L299.0,122.7 L300.0,122.7 L301.0,122.7 L302.0,122.6 L303.0,122.6 L304.0,122.6 L305.0,122.5 L306.0,122.4 L307.0,122.4 L308.0,122.3 L309.0,122.2 L310.0,122.1 L311.0,122.0 L312.0,121.9 L313.0,121.8 L314.0,121.8 L315.0,121.7 L316.0,121.6 L317.0,121.5 L318.0,121.5 L319.0,121.4 L320.0,121.4 L321.0,121.4 L322.0,121.3 L323.0,121.4 L324.0,121.4 L325.0,121.4 L326.0,121.5 L327.0,121.6 L328.0,121.7 L329.0,121.8 L330.0,121.9 L331.0,122.1 L332.0,122.3 L333.0,122.6 L334.0,122.8 L335.0,123.1 L336.0,123.5 L337.0,123.9 L338.0,124.3 L339.0,124.7 L340.0,125.2 L341.0,125.7 L342.0,126.3 L343.0,126.9 L344.0,127.6 L345.0,128.3 L346.0,129.1 L347.0,129.9 L348.0,130.7 L349.0,131.6 L350.0,132.5 L351.0,133.5 L352.0,134.4 L353.0,135.4 L354.0,136.4 L355.0,137.5 L356.0,138.5 L357.0,139.6 L358.0,140.6 L359.0,141.8 L360.0,142.9 L361.0,144.2 L362.0,145.5 L363.0,146.9 L364.0,148.5 L365.0,150.0 L366.0,151.7 L367.0,153.4 L368.0,155.1 L369.0,156.9 L370.0,158.7 L371.0,160.6 L372.0,162.4 L373.0,164.3 L374.0,166.2 L375.0,168.1 L376.0,169.9 L377.0,171.7 L378.0,173.5 L379.0,175.3 L380.0,177.1 L381.0,178.9 L382.0,180.6 L383.0,182.4 L384.0,184.1 L385.0,185.8 L386.0,187.5 L387.0,189.2 L388.0,190.9 L389.0,192.6 L390.0,194.3 L391.0,196.0 L392.0,197.7 L393.0,199.4 L394.0,201.1 L395.0,202.7 L396.0,204.4 L397.0,206.0 L398.0,207.6 L399.0,209.2 L400.0,210.8 L401.0,212.3 L402.0,213.8 L403.0,215.3 L404.0,216.8 L405.0,218.2 L406.0,219.6 L407.0,220.9 L408.0,222.2 L409.0,223.4 L410.0,224.6 L411.0,225.8 L412.0,226.9 L413.0,228.0 L414.0,229.1 L415.0,230.1 L416.0,231.1 L417.0,232.0 L418.0,232.9 L419.0,233.8 L420.0,234.6 L421.0,235.5 L422.0,236.2 L423.0,237.0 L424.0,237.7 L425.0,238.4 L426.0,239.0 L427.0,239.7 L428.0,240.2 L429.0,240.8 L430.0,241.4 L431.0,241.9 L432.0,242.4 L433.0,242.9 L434.0,243.3 L435.0,243.7 L436.0,244.1 L437.0,244.5 L438.0,244.9 L439.0,245.2 L440.0,245.6 L441.0,245.9 L442.0,246.2 L443.0,246.5 L444.0,246.7 L445.0,247.0 L446.0,247.2 L447.0,247.4 L448.0,247.6 L449.0,247.8 L450.0,248.0 L451.0,248.2 L452.0,248.4 L453.0,248.5 L454.0,248.7 L455.0,248.8 L456.0,249.0 L457.0,249.1 L458.0,249.2 L459.0,249.3 L460.0,249.4 L461.0,249.5 L462.0,249.6 L463.0,249.7 L464.0,249.8 L465.0,249.9 L466.0,250.0 L467.0,250.0 L468.0,250.1 L469.0,250.2 L470.0,250.2 L471.0,250.3 L472.0,250.3 L473.0,250.4 L474.0,250.4 L475.0,250.4 L476.0,250.5 L477.0,250.5 L478.0,250.5 L479.0,250.6 L480.0,250.6 L481.0,250.6 L482.0,250.6 L483.0,250.6 L484.0,250.6 L485.0,250.7 L486.0,250.7 L487.0,250.7 L488.0,250.7 L489.0,250.7 L490.0,250.7 L491.0,250.7 L492.0,250.7 L493.0,250.7 L494.0,250.7 L495.0,250.8 L496.0,250.8 L497.0,250.8 L498.0,250.8 L499.0,250.8 L500.0,250.8 L501.0,250.8 L502.0,250.9 L503.0,250.9 L504.0,250.9 L505.0,250.9 L506.0,251.0 L507.0,251.0 L508.0,251.0 L509.0,251.1 L510.0,251.1 L511.0,251.2 L512.0,251.2 L513.0,251.3 L514.0,251.3 L515.0,251.4 L516.0,251.5 L517.0,251.6" fill="none" stroke="#000" stroke-width="1.9" stroke-linejoin="round"/>

<rect x="423.5" y="12.3" width="82.8" height="114.8" fill="#fff" stroke="#111" stroke-width="1.1"/><g stroke="#111" stroke-width="0.8"><line x1="423.5" y1="24.1" x2="425.8" y2="24.1"/><line x1="506.3" y1="24.1" x2="504" y2="24.1"/><line x1="423.5" y1="35.6" x2="425.8" y2="35.6"/><line x1="506.3" y1="35.6" x2="504" y2="35.6"/><line x1="423.5" y1="47.0" x2="425.8" y2="47.0"/><line x1="506.3" y1="47.0" x2="504" y2="47.0"/><line x1="423.5" y1="58.5" x2="425.8" y2="58.5"/><line x1="506.3" y1="58.5" x2="504" y2="58.5"/><line x1="423.5" y1="69.9" x2="425.8" y2="69.9"/><line x1="506.3" y1="69.9" x2="504" y2="69.9"/><line x1="423.5" y1="81.3" x2="425.8" y2="81.3"/><line x1="506.3" y1="81.3" x2="504" y2="81.3"/><line x1="423.5" y1="92.8" x2="425.8" y2="92.8"/><line x1="506.3" y1="92.8" x2="504" y2="92.8"/><line x1="423.5" y1="104.2" x2="425.8" y2="104.2"/><line x1="506.3" y1="104.2" x2="504" y2="104.2"/><line x1="423.5" y1="115.7" x2="425.8" y2="115.7"/><line x1="506.3" y1="115.7" x2="504" y2="115.7"/><line x1="435.3" y1="127.1" x2="435.3" y2="124.5"/><line x1="435.3" y1="12.7" x2="435.3" y2="15.299999999999999"/><line x1="447.2" y1="127.1" x2="447.2" y2="125.5"/><line x1="447.2" y1="12.7" x2="447.2" y2="14.299999999999999"/><line x1="459.0" y1="127.1" x2="459.0" y2="124.5"/><line x1="459.0" y1="12.7" x2="459.0" y2="15.299999999999999"/><line x1="470.8" y1="127.1" x2="470.8" y2="125.5"/><line x1="470.8" y1="12.7" x2="470.8" y2="14.299999999999999"/><line x1="482.6" y1="127.1" x2="482.6" y2="124.5"/><line x1="482.6" y1="12.7" x2="482.6" y2="15.299999999999999"/><line x1="494.5" y1="127.1" x2="494.5" y2="125.5"/><line x1="494.5" y1="12.7" x2="494.5" y2="14.299999999999999"/></g><line x1="483" y1="107" x2="483" y2="119" stroke="#333" stroke-width="0.8" stroke-dasharray="1.2,1.2"/>
<path d="M423.8,69.9 L425.3,74.2 L426.8,78.1 L428.3,81.6 L429.8,84.7 L431.3,87.5 L432.8,90.0 L434.3,92.3 L435.8,94.4 L437.3,96.2 L438.8,97.9 L440.3,99.5 L441.8,100.9 L443.3,102.2 L444.8,103.3 L446.3,104.4 L447.8,105.4 L449.3,106.4 L450.8,107.2 L452.3,108.1 L453.8,108.8 L455.3,109.5 L456.8,110.2 L458.3,110.8 L459.8,111.5 L461.3,112.0 L462.8,112.6 L464.3,113.1 L465.8,113.6 L467.3,114.1 L468.8,114.6 L470.3,115.1 L471.8,115.6 L473.3,116.0 L474.8,116.4 L476.3,116.9 L477.8,117.3 L479.3,117.7 L480.8,118.1 L482.3,118.5 L483.8,118.9 L485.3,119.3 L486.8,119.7 L488.3,120.1 L489.8,120.5 L491.3,120.9 L492.8,121.3 L494.3,121.7 L495.8,122.1 L497.3,122.4 L498.8,122.8 L500.3,123.2 L501.8,123.6 L503.3,123.9 L504.8,124.3" fill="none" stroke="#111" stroke-width="1.3" stroke-linejoin="round"/>
<path d="M423.6,29.1 L425.1,33.9 L426.6,38.5 L428.1,42.8 L429.6,47.0 L431.1,50.9 L432.6,54.7 L434.1,58.3 L435.6,61.7 L437.1,64.9 L438.6,68.0 L440.1,71.0 L441.6,73.8 L443.1,76.5 L444.6,79.0 L446.1,81.4 L447.6,83.7 L449.1,85.9 L450.6,88.0 L452.1,90.0 L453.6,91.9 L455.1,93.8 L456.6,95.5 L458.1,97.1 L459.6,98.7 L461.1,100.2 L462.6,101.6 L464.1,102.9 L465.6,104.2 L467.1,105.5 L468.6,106.6 L470.1,107.7 L471.6,108.8 L473.1,109.8 L474.6,110.8 L476.1,111.7 L477.6,112.6 L479.1,113.4 L480.6,114.2 L482.1,114.9 L483.6,115.6 L485.1,116.3 L486.6,117.0 L488.1,117.6 L489.6,118.2 L491.1,118.7 L492.6,119.3 L494.1,119.8 L495.6,120.3 L497.1,120.7 L498.6,121.2 L500.1,121.6 L501.6,122.0 L503.1,122.4 L504.6,122.7 L506.1,123.1" fill="none" stroke="#d82020" stroke-width="1.3" stroke-linejoin="round"/>

<g font-family="Liberation Sans, Arial, sans-serif" fill="#333"><text x="0" y="0" font-size="9.2" fill="#444" text-anchor="middle" transform="translate(413.2 71.8) rotate(-90)">Normalized Intensity</text><text x="435.3" y="136.2" font-size="9" text-anchor="middle" fill="#333">2</text><text x="459.0" y="136.2" font-size="9" text-anchor="middle" fill="#333">1</text><text x="482.6" y="136.2" font-size="9" text-anchor="middle" fill="#333">0</text><text x="506.3" y="136.2" font-size="9" text-anchor="middle" fill="#333">-1</text><text x="465" y="145.2" font-size="9" text-anchor="middle" fill="#3a3a3a" letter-spacing="-0.2">B E (eV)</text><text x="429.7" y="42.6" font-size="8.3" font-weight="bold" fill="#222">RGO</text><text x="425.5" y="102.7" font-size="8.3" font-weight="bold" fill="#222">GO</text><text x="481.8" y="105.6" font-size="7.6" font-weight="bold" fill="#222">E<tspan font-size="6.2" dx="0.3" dy="2.4" font-style="italic">F</tspan></text></g>
<rect x="312.5" y="190.6" width="71.7" height="98.2" fill="#fff" stroke="#444" stroke-width="0.8"/><g stroke="#555" stroke-width="0.7"><line x1="321.4" y1="288.8" x2="321.4" y2="287.5"/><line x1="321.4" y1="190.6" x2="321.4" y2="191.9"/><line x1="330.3" y1="288.8" x2="330.3" y2="286.6"/><line x1="330.3" y1="190.6" x2="330.3" y2="192.79999999999998"/><line x1="339.2" y1="288.8" x2="339.2" y2="287.5"/><line x1="339.2" y1="190.6" x2="339.2" y2="191.9"/><line x1="348.1" y1="288.8" x2="348.1" y2="286.6"/><line x1="348.1" y1="190.6" x2="348.1" y2="192.79999999999998"/><line x1="357.0" y1="288.8" x2="357.0" y2="287.5"/><line x1="357.0" y1="190.6" x2="357.0" y2="191.9"/><line x1="365.9" y1="288.8" x2="365.9" y2="286.6"/><line x1="365.9" y1="190.6" x2="365.9" y2="192.79999999999998"/><line x1="374.8" y1="288.8" x2="374.8" y2="287.5"/><line x1="374.8" y1="190.6" x2="374.8" y2="191.9"/><line x1="383.7" y1="288.8" x2="383.7" y2="286.6"/><line x1="383.7" y1="190.6" x2="383.7" y2="192.79999999999998"/><line x1="312.5" y1="198.3" x2="314.5" y2="198.3"/><line x1="384.2" y1="198.3" x2="382.2" y2="198.3"/><line x1="312.5" y1="239.7" x2="314.5" y2="239.7"/><line x1="384.2" y1="239.7" x2="382.2" y2="239.7"/><line x1="312.5" y1="281" x2="314.5" y2="281"/><line x1="384.2" y1="281" x2="382.2" y2="281"/><line x1="347.8" y1="235" x2="347.8" y2="291" stroke="#888" stroke-width="0.6"/><line x1="352" y1="235" x2="352" y2="291" stroke="#888" stroke-width="0.6"/></g>
<path d="M348.8,282.4 C349.0,282.4 349.5,282.6 349.8,282.3 C350.1,282.0 350.3,282.6 350.4,280.5 C350.5,278.4 350.5,276.8 350.6,270.0 C350.7,263.2 351.0,248.3 351.2,240.0 C351.4,231.7 351.6,225.3 351.8,220.0 C352.0,214.7 352.2,210.8 352.6,208.0 C353.1,205.2 353.8,204.1 354.5,203.0 C355.2,201.9 356.1,201.7 357.0,201.3 C357.9,200.9 358.8,200.8 359.7,200.8 C360.6,200.8 361.4,200.9 362.5,201.5 C363.6,202.1 364.6,202.9 366.0,204.5 C367.4,206.1 369.2,208.9 370.7,211.0 C372.2,213.1 373.4,214.6 375.0,217.0 C376.6,219.4 378.8,222.7 380.3,225.7 C381.8,228.7 383.4,233.4 384.0,235.0" fill="none" stroke="#111" stroke-width="1.2" stroke-linejoin="round"/>
<path d="M312.5,282.6 C314.6,282.6 321.2,282.5 325.0,282.4 C328.8,282.3 332.5,282.0 335.0,281.8 C337.5,281.6 338.3,281.5 340.0,281.4 C341.7,281.3 343.9,281.2 345.0,281.0 C346.1,280.8 346.4,281.1 346.8,280.3 C347.2,279.5 347.2,281.1 347.4,276.0 C347.6,270.9 347.6,259.3 347.8,250.0 C348.0,240.7 348.2,227.0 348.5,220.0 C348.8,213.0 349.0,210.9 349.3,208.0 C349.6,205.1 350.1,203.7 350.5,202.5 C350.9,201.3 351.4,201.3 352.0,201.0 C352.6,200.7 353.4,200.4 354.2,200.4 C355.0,200.4 355.9,200.3 357.0,200.8 C358.1,201.3 359.8,202.6 361.0,203.5 C362.2,204.4 363.3,205.3 364.5,206.5 C365.7,207.7 366.8,209.1 368.0,210.6 C369.2,212.1 370.7,213.9 372.0,215.5 C373.3,217.1 374.8,218.5 376.0,220.0 C377.2,221.5 378.0,222.9 379.0,224.3 C380.0,225.7 381.2,227.2 382.0,228.5 C382.8,229.8 383.7,231.4 384.0,232.0" fill="none" stroke="#e02020" stroke-width="1.2" stroke-linejoin="round"/>

<g font-family="Liberation Sans, Arial, sans-serif" fill="#444"><text x="312.5" y="298.4" font-size="9" text-anchor="middle" fill="#555">0</text><text x="330.3" y="298.4" font-size="9" text-anchor="middle" fill="#555">2</text><text x="348.1" y="298.4" font-size="9" text-anchor="middle" fill="#555">4</text><text x="365.9" y="298.4" font-size="9" text-anchor="middle" fill="#555">6</text><text x="383.7" y="298.4" font-size="9" text-anchor="middle" fill="#555">8</text><text x="347.5" y="307.4" font-size="8.6" text-anchor="middle" fill="#444" letter-spacing="-0.2">K E (eV)</text><text x="0" y="0" font-size="8" fill="#444" text-anchor="middle" transform="translate(302.9 243) rotate(-90)">Intensity (a.u.)</text><text x="329.8" y="223" font-size="7.5" font-weight="bold" letter-spacing="0.15" fill="#333">RGO</text><text x="352.8" y="226.4" font-size="7.5" font-weight="bold" letter-spacing="0.15" fill="#333">GO</text><text x="355.4" y="254" font-size="7.2" font-weight="bold" font-style="italic" fill="#333">−0.4 eV</text></g>
<g stroke="#333" stroke-width="0.8" fill="#333"><line x1="336.9" y1="256.8" x2="345" y2="256.8"/><path d="M347,256.8 L343.5,255.2 L343.5,258.4Z" stroke="none"/><line x1="361.5" y1="256.8" x2="354.5" y2="256.8"/><path d="M352.6,256.8 L356,255.2 L356,258.4Z" stroke="none"/></g>
<line x1="428.5" y1="181.5" x2="428.5" y2="195" stroke="#000" stroke-width="1.1"/>
<path d="M428.5,199.5 L426.6,194 L430.4,194Z" fill="#000"/>
<g stroke="#000" stroke-width="1.5" fill="none"><line x1="332.3" y1="314" x2="332.3" y2="308.5"/><line x1="332.3" y1="1.5" x2="332.3" y2="7.0"/><line x1="373.5" y1="314" x2="373.5" y2="308.5"/><line x1="373.5" y1="1.5" x2="373.5" y2="7.0"/><line x1="414.8" y1="314" x2="414.8" y2="308.5"/><line x1="414.8" y1="1.5" x2="414.8" y2="7.0"/><line x1="456.0" y1="314" x2="456.0" y2="308.5"/><line x1="456.0" y1="1.5" x2="456.0" y2="7.0"/><line x1="497.3" y1="314" x2="497.3" y2="308.5"/><line x1="497.3" y1="1.5" x2="497.3" y2="7.0"/><line x1="311.6" y1="314" x2="311.6" y2="311"/><line x1="311.6" y1="1.5" x2="311.6" y2="4.5"/><line x1="352.9" y1="314" x2="352.9" y2="311"/><line x1="352.9" y1="1.5" x2="352.9" y2="4.5"/><line x1="394.1" y1="314" x2="394.1" y2="311"/><line x1="394.1" y1="1.5" x2="394.1" y2="4.5"/><line x1="435.4" y1="314" x2="435.4" y2="311"/><line x1="435.4" y1="1.5" x2="435.4" y2="4.5"/><line x1="476.7" y1="314" x2="476.7" y2="311"/><line x1="476.7" y1="1.5" x2="476.7" y2="4.5"/><line x1="291" y1="18" x2="297" y2="18"/><line x1="517.8" y1="18" x2="511.79999999999995" y2="18"/><line x1="291" y1="102.3" x2="297" y2="102.3"/><line x1="517.8" y1="102.3" x2="511.79999999999995" y2="102.3"/><line x1="291" y1="187.5" x2="297" y2="187.5"/><line x1="517.8" y1="187.5" x2="511.79999999999995" y2="187.5"/><line x1="291" y1="272.5" x2="297" y2="272.5"/><line x1="517.8" y1="272.5" x2="511.79999999999995" y2="272.5"/><line x1="291" y1="59.5" x2="294.5" y2="59.5"/><line x1="517.8" y1="59.5" x2="514.3" y2="59.5"/><line x1="291" y1="144.8" x2="294.5" y2="144.8"/><line x1="517.8" y1="144.8" x2="514.3" y2="144.8"/><line x1="291" y1="229.5" x2="294.5" y2="229.5"/><line x1="517.8" y1="229.5" x2="514.3" y2="229.5"/></g><rect x="291" y="1.5" width="226.8" height="312.5" fill="none" stroke="#000" stroke-width="1.8" stroke-linejoin="round"/>
<g font-family="Liberation Sans, Arial, sans-serif" font-size="13.6" fill="#222" stroke="#222" stroke-width="0.2" text-anchor="middle"><text x="290.6" y="331.8">10</text><text x="331.90000000000003" y="331.8">8</text><text x="373.1" y="331.8">6</text><text x="414.40000000000003" y="331.8">4</text><text x="455.6" y="331.8">2</text><text x="496.90000000000003" y="331.8">0</text></g>
<g font-family="Liberation Sans, Arial, sans-serif" font-size="13.5" fill="#222" stroke="#222" stroke-width="0.3">
<text x="476.2" y="170.2">HOPG</text><text x="484.3" y="209.1">RGO</text><text x="492.2" y="244.6">GO</text>
</g>
<text x="297.4" y="17.6" font-family="Liberation Sans, Arial, sans-serif" font-size="17.6" fill="#222" stroke="#222" stroke-width="0.3">(b)</text>
<text x="333" y="17.3" font-family="Liberation Sans, Arial, sans-serif" font-size="12.3" fill="#222" stroke="#222" stroke-width="0.2">He-I</text>
<text x="0" y="0" font-family="Liberation Sans, Arial, sans-serif" font-size="14.7" fill="#2a2a2a" stroke="#2a2a2a" stroke-width="0.25" text-anchor="middle" transform="translate(273.5 160.4) rotate(-90)">Normalized Intensity</text>
<text x="404" y="356.8" font-family="Liberation Sans, Arial, sans-serif" font-size="14.4" fill="#2a2a2a" stroke="#2a2a2a" stroke-width="0.25" text-anchor="middle">B E (eV)</text>
</svg>
</body></html>
